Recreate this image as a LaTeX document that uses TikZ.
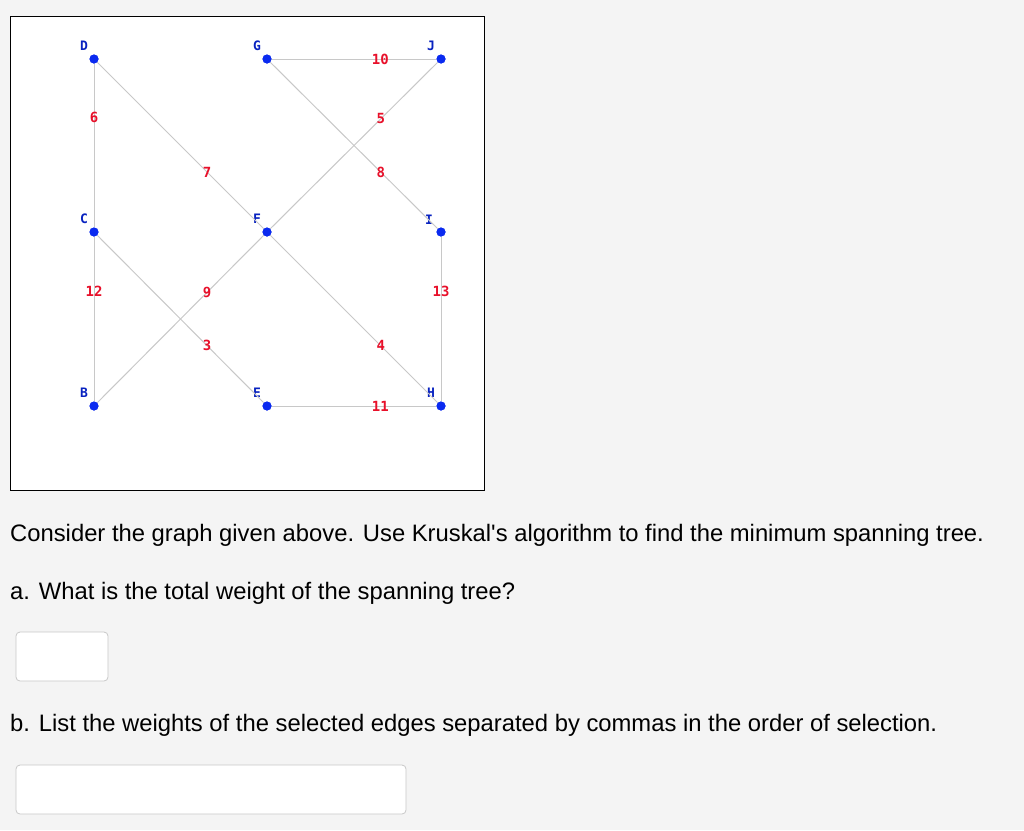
\documentclass[tikz,border=0pt]{standalone}
\usepackage{fontspec}
\setmainfont{Liberation Sans}[Ligatures=TeXOff]
\newfontfamily\lblfont{DejaVu Sans Mono}
\definecolor{bg}{HTML}{F4F4F4}
\definecolor{dotblue}{HTML}{0A2AF0}
\definecolor{wred}{HTML}{E8102A}
\definecolor{edge}{HTML}{C8C8C8}
\definecolor{boxline}{HTML}{C8C8C8}
\tikzset{
 v/.style={circle,fill=dotblue,inner sep=0pt,minimum size=9pt},
 vl/.style={font=\lblfont\bfseries\fontsize{13}{13}\selectfont,text=dotblue!80!black,inner sep=0pt},
 e/.style={draw=edge,line width=1pt},
 w/.style={font=\lblfont\bfseries\fontsize{14}{14}\selectfont,text=wred,inner sep=1pt},
 q/.style={font=\fontsize{23.8}{26}\selectfont,anchor=west,inner sep=0pt},
 inbox/.style={draw=boxline,fill=white,rounded corners=4pt,line width=0.8pt}
}
\begin{document}
\begin{tikzpicture}[x=1pt,y=-1pt]
\fill[bg] (0,0) rectangle (1024,830);
\useasboundingbox (0,0) rectangle (1024,830);
\draw[fill=white,line width=1pt] (10,16) rectangle (484,490);
\node[v] (D) at (94,59) {};
\node[v] (G) at (267,59) {};
\node[v] (J) at (441,59) {};
\node[v] (C) at (94,232) {};
\node[v] (F) at (267,232) {};
\node[v] (I) at (441,232) {};
\node[v] (B) at (94,406) {};
\node[v] (E) at (267,406) {};
\node[v] (H) at (441,406) {};
\foreach \n in {D,G,J,C,F,B,E,H} \node[vl] at ([shift={(-10,-13)}]\n) {\n};
\node[vl] at ([shift={(-12,-12)}]I) {I};
\draw[e] (D) -- node[w,pos=0.33]{6} (C);
\draw[e] (C) -- node[w,pos=0.33]{12} (B);
\draw[e] (I) -- node[w,pos=0.33]{13} (H);
\draw[e] (G) -- node[w,pos=0.66]{10} (J);
\draw[e] (E) -- node[w,pos=0.66]{11} (H);
\draw[e] (D) -- node[w,pos=0.66]{7} (F);
\draw[e] (F) -- node[w,pos=0.66]{4} (H);
\draw[e] (G) -- node[w,pos=0.66]{8} (I);
\draw[e] (F) -- node[w,pos=0.66]{5} (J);
\draw[e] (B) -- node[w,pos=0.66]{9} (F);
\draw[e] (C) -- node[w,pos=0.66]{3} (E);
\foreach \n in {D,G,J,C,F,I,B,E,H} \node[v] at (\n) {};
\node[q] (t1) at (10,535) {Consider the graph given above. Use Kruskal's algorithm to find the minimum spanning tree.};
\node[q] (t2) at (10,593) {a. What is the total weight of the spanning tree?};
\draw[inbox] (16,632) rectangle (108,681);
\node[q] (t3) at (10,725) {b. List the weights of the selected edges separated by commas in the order of selection.};
\draw[inbox] (16,765) rectangle (406,814);
\end{tikzpicture}
\end{document}
